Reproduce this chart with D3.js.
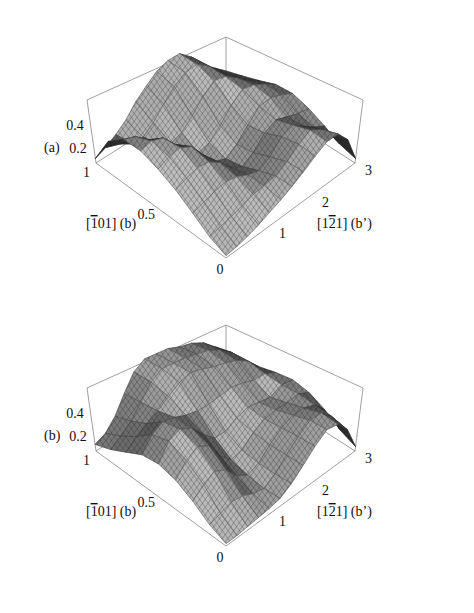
<!DOCTYPE html>
<html><head><meta charset="utf-8">
<script src="https://cdn.jsdelivr.net/npm/d3@7"></script>
<style>body{margin:0;background:#fff}text{font-family:"Liberation Serif",serif;font-size:14px;fill:#111}</style>
</head><body><svg id="chart" width="474" height="613"></svg>
<script>
// grid positions
const uValues = [0, 0.125, 0.25, 0.375, 0.5, 0.625, 0.75, 0.875, 1];
const vValues = [0, 0.25, 0.5, 0.75, 1, 1.25, 1.5, 1.75, 2, 2.25, 2.5, 2.75, 3];
const zTicks = [0.2, 0.4];
const uTicks = [0, 0.5, 1];
const vTicks = [1, 2, 3];

// surface heights, rows = u, columns = v
const surfaceA = [
  [.08, .09, .11, .14, .18, .22, .27, .33, .40, .46, .46, .34, .10],
  [.14, .16, .18, .21, .24, .25, .27, .33, .42, .48, .42, .30, .14],
  [.24, .27, .30, .32, .30, .25, .22, .28, .40, .44, .36, .28, .22],
  [.34, .38, .41, .40, .33, .22, .16, .22, .34, .40, .36, .32, .30],
  [.42, .47, .49, .44, .30, .17, .13, .20, .32, .44, .46, .42, .36],
  [.48, .51, .48, .36, .22, .15, .18, .28, .42, .52, .50, .44, .36],
  [.48, .45, .36, .26, .20, .24, .34, .48, .58, .56, .48, .38, .30],
  [.36, .28, .22, .22, .30, .42, .54, .63, .66, .58, .44, .32, .24],
  [.10, .14, .20, .28, .40, .50, .60, .66, .68, .58, .42, .30, .18]
];
const surfaceB = [
  [.08, .08, .09, .10, .11, .13, .19, .28, .38, .46, .44, .32, .10],
  [.14, .17, .20, .19, .14, .12, .18, .28, .38, .46, .46, .36, .16],
  [.24, .32, .37, .32, .20, .14, .18, .28, .37, .42, .42, .38, .26],
  [.32, .43, .49, .44, .28, .18, .20, .30, .36, .38, .38, .40, .34],
  [.36, .50, .55, .50, .38, .28, .28, .34, .38, .36, .34, .40, .38],
  [.34, .46, .52, .50, .46, .44, .44, .46, .48, .46, .42, .42, .36],
  [.26, .34, .40, .46, .54, .62, .66, .64, .60, .58, .54, .46, .32],
  [.18, .24, .32, .44, .58, .66, .66, .66, .64, .62, .56, .46, .28],
  [.12, .16, .26, .42, .58, .66, .66, .66, .62, .60, .54, .42, .18]
];

const svg = d3.select('#chart');

// mesh texture
const defs = svg.append('defs');
[36, -36].forEach((a, i) => {
  const p = defs.append('pattern').attr('id', 'mesh' + i)
    .attr('patternUnits', 'userSpaceOnUse').attr('width', 4.6).attr('height', 4.6)
    .attr('patternTransform', `rotate(${a})`);
  p.append('line').attr('x1', 0).attr('y1', 0).attr('x2', 0).attr('y2', 4.6)
    .attr('stroke', '#1a1a1a').attr('stroke-width', 0.6).attr('stroke-opacity', 0.8);
});

const zScale = d3.scaleLinear().domain([0.06, 0.63]).range([0, 1]);

function drawPanel(data, dy, tag) {
  const g = svg.append('g').attr('transform', `translate(0,${dy})`);
  const floor = {F: [226, 258], L: [96, 163], R: [355, 163], B: [226, 80]};
  const top = {F: [226, 190], L: [87, 100], R: [363, 100], B: [226, 37]};
  const bil = (c, s, w) => [0, 1].map(k =>
    c.F[k] * (1 - s) * (1 - w) + c.L[k] * s * (1 - w) + c.R[k] * (1 - s) * w + c.B[k] * s * w);
  const proj = (u, v, z) => {
    const w = v / 3, a = bil(floor, u, w), b = bil(top, u, w), t = zScale(z);
    return [a[0] + (b[0] - a[0]) * t, a[1] + (b[1] - a[1]) * t];
  };
  const line = d3.line();
  const seg = (p, q) => g.append('path').attr('d', line([p, q]))
    .attr('stroke', '#888').attr('stroke-width', 0.8).attr('fill', 'none');

  // box behind the surface
  seg(floor.L, floor.B); seg(floor.B, floor.R);
  seg(floor.B, top.B); seg(floor.L, top.L); seg(floor.R, top.R);
  seg(top.L, top.B); seg(top.B, top.R);

  // cells, far to near
  const cells = [];
  for (let i = 0; i < uValues.length - 1; i++) {
    for (let j = 0; j < vValues.length - 1; j++) {
      const c = [[i, j], [i + 1, j], [i + 1, j + 1], [i, j + 1]];
      const pts = c.map(([a, b]) => proj(uValues[a], vValues[b], data[a][b]));
      const du = ((data[i + 1][j] + data[i + 1][j + 1]) - (data[i][j] + data[i][j + 1])) / 2 / 0.125;
      const dv = ((data[i][j + 1] + data[i + 1][j + 1]) - (data[i][j] + data[i + 1][j])) / 2 / (0.25 / 3);
      const n = [-du * 0.8, -dv * 0.8, 1];
      const light = [-0.45, -0.35, 0.8];
      const lam = Math.max(0, d3.sum(n.map((x, k) => x * light[k])) / Math.hypot(...n) / Math.hypot(...light));
      const depth = (uValues[i] + uValues[i + 1]) / 2 + (vValues[j] + vValues[j + 1]) / 6;
      cells.push({pts, lam, depth});
    }
  }
  cells.sort((a, b) => b.depth - a.depth);
  const cg = g.append('g');
  cells.forEach(c => {
    const d = line(c.pts) + 'Z';
    const gray = Math.round(40 + 150 * Math.pow(c.lam, 1.5));
    cg.append('path').attr('d', d).attr('fill', d3.rgb(gray, gray, gray))
      .attr('stroke', d3.rgb(gray, gray, gray)).attr('stroke-width', 0.6);
    cg.append('path').attr('d', d).attr('fill', 'url(#mesh0)');
    cg.append('path').attr('d', d).attr('fill', 'url(#mesh1)')
      .attr('stroke', '#222').attr('stroke-width', 0.5).attr('stroke-opacity', 0.7);
  });

  // front floor edges
  seg(floor.L, floor.F); seg(floor.F, floor.R);

  // tick labels
  zTicks.forEach(z => {
    const p = proj(1, 0, z);
    g.append('text').attr('x', p[0] - 7).attr('y', p[1] + 5).attr('text-anchor', 'end').text(z);
  });
  g.append('text').attr('x', 44).attr('y', 152).text(`(${tag})`);
  uTicks.forEach(u => {
    const p = proj(u, 0, 0.06);
    g.append('text').attr('x', p[0] - 6).attr('y', p[1] + (u === 0 ? 16 : u === 1 ? 14 : 8))
      .attr('text-anchor', u === 0 ? 'middle' : 'end').text(u);
  });
  vTicks.forEach(v => {
    const p = proj(0, v, 0.06);
    g.append('text').attr('x', p[0] + 10).attr('y', p[1] + 12).attr('text-anchor', 'start').text(v);
  });

  const la = g.append('text').attr('x', 86).attr('y', 228);
  la.append('tspan').text('[');
  la.append('tspan').attr('text-decoration', 'overline').text('1');
  la.append('tspan').text('01] (b)');
  const lb = g.append('text').attr('x', 317).attr('y', 228);
  lb.append('tspan').text('[1');
  lb.append('tspan').attr('text-decoration', 'overline').text('2');
  lb.append('tspan').text('1] (b\u2019)');
}

drawPanel(surfaceA, 0, 'a');
drawPanel(surfaceB, 288, 'b');
</script></body></html>
